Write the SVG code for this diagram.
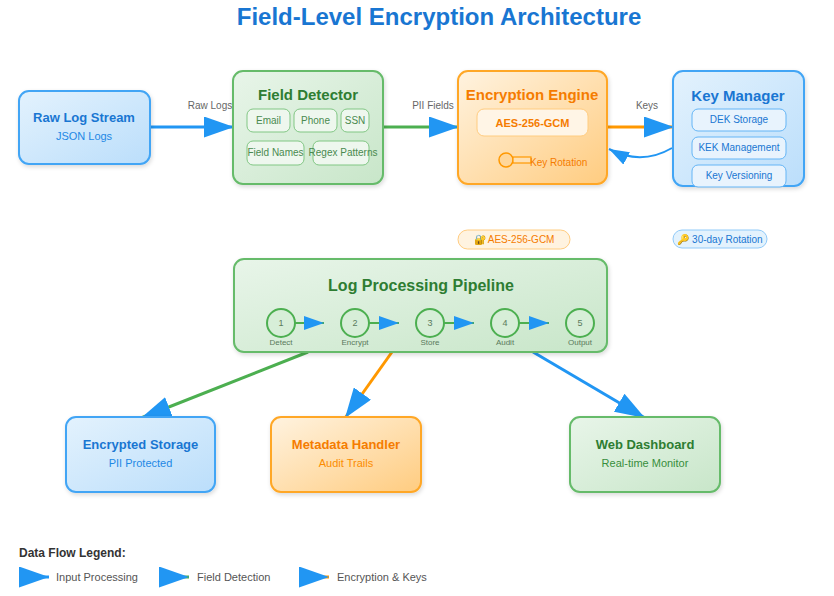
<svg xmlns="http://www.w3.org/2000/svg" width="834" height="596" viewBox="0 0 834 596">
<defs>
<style>
text{font-family:"Liberation Sans",Arial,sans-serif}
.t{font-weight:bold;text-anchor:middle}
.c{text-anchor:middle}
.lbl{font-size:10px;fill:#666;text-anchor:middle}
.bb{stroke:#42a5f5;stroke-width:2;fill:url(#gBlue);filter:url(#sh)}
.gb{stroke:#66bb6a;stroke-width:2;fill:url(#gGreen);filter:url(#sh)}
.ob{stroke:#ffa726;stroke-width:2;fill:url(#gOrange);filter:url(#sh)}
.gchip{fill:#eef7ee;stroke:#81c784;stroke-width:1}
.bchip{fill:#e8f3fd;stroke:#64b5f6;stroke-width:1}
.gt{font-size:10px;fill:#4a8a4e;text-anchor:middle}
.bt{font-size:10px;fill:#1976d2;text-anchor:middle}
.ar{marker-end:url(#arr);fill:none}
.step{fill:#d7eed8;stroke:#4caf50;stroke-width:2}
.sn{font-size:9px;fill:#5a7a5c;text-anchor:middle}
.sl{font-size:8px;fill:#5a7a5c;text-anchor:middle}
.leg{font-size:11px;fill:#555}
</style>
<linearGradient id="gBlue" x1="0" y1="0" x2="1" y2="1"><stop offset="0" stop-color="#e3f2fd"/><stop offset="1" stop-color="#bbdefb"/></linearGradient>
<linearGradient id="gGreen" x1="0" y1="0" x2="1" y2="1"><stop offset="0" stop-color="#e8f5e9"/><stop offset="1" stop-color="#c8e6c9"/></linearGradient>
<linearGradient id="gOrange" x1="0" y1="0" x2="1" y2="1"><stop offset="0" stop-color="#fff3e0"/><stop offset="1" stop-color="#ffcc80"/></linearGradient>
<marker id="arr" viewBox="0 0 10 7" refX="10" refY="3.5" markerWidth="10" markerHeight="7" orient="auto" markerUnits="strokeWidth"><polygon points="0 0,10 3.5,0 7" fill="#2196f3"/></marker>
<filter id="sh" x="-10%" y="-10%" width="130%" height="140%"><feDropShadow dx="1" dy="2" stdDeviation="2" flood-color="#000" flood-opacity="0.15"/></filter>
</defs>
<rect width="834" height="596" fill="#ffffff"/>
<text x="439" y="25" class="t" font-size="24" fill="#1976d2">Field-Level Encryption Architecture</text>

<g id="connectors">
<line class="ar" x1="150" y1="127" x2="234" y2="127" stroke="#2196f3" stroke-width="3"/>
<line class="ar" x1="383" y1="127" x2="459" y2="127" stroke="#4caf50" stroke-width="3"/>
<line class="ar" x1="607" y1="127" x2="674" y2="127" stroke="#ff9800" stroke-width="3"/>
<path class="ar" d="M672 148 Q641 166 609 149" stroke="#2196f3" stroke-width="2"/>
<line class="ar" x1="308" y1="352" x2="141" y2="418" stroke="#4caf50" stroke-width="3"/>
<line class="ar" x1="392" y1="352" x2="345" y2="418" stroke="#ff9800" stroke-width="3"/>
<line class="ar" x1="533" y1="352" x2="645" y2="418" stroke="#2196f3" stroke-width="3"/>
<text x="210" y="109" class="lbl">Raw Logs</text>
<text x="433" y="109" class="lbl">PII Fields</text>
<text x="647" y="109" class="lbl">Keys</text>
</g>

<g id="raw-log-stream">
<rect class="bb" x="19" y="91" width="131" height="73" rx="10"/>
<text x="84" y="122" class="t" font-size="13" fill="#1976d2">Raw Log Stream</text>
<text x="84" y="140" class="c" font-size="11" fill="#1e88e5">JSON Logs</text>
</g>

<g id="field-detector">
<rect class="gb" x="233" y="71" width="150" height="113" rx="10"/>
<text x="308" y="100" class="t" font-size="15" fill="#2e7d32">Field Detector</text>
<rect class="gchip" x="247" y="109" width="43" height="23" rx="6"/>
<text x="268.5" y="124" class="gt">Email</text>
<rect class="gchip" x="294" y="109" width="43" height="23" rx="6"/>
<text x="315.5" y="124" class="gt">Phone</text>
<rect class="gchip" x="341" y="109" width="28" height="23" rx="6"/>
<text x="355" y="124" class="gt">SSN</text>
<rect class="gchip" x="247" y="141" width="57" height="24" rx="6"/>
<text x="275.5" y="156" class="gt">Field Names</text>
<rect class="gchip" x="313" y="141" width="56" height="24" rx="6"/>
<text x="343" y="156" class="gt">Regex Patterns</text>
</g>

<g id="encryption-engine">
<rect class="ob" x="458" y="71" width="149" height="113" rx="10"/>
<text x="532" y="100" class="t" font-size="15" fill="#f57c00">Encryption Engine</text>
<rect x="477" y="109" width="111" height="27" rx="7" fill="#fff5e6" stroke="#ffcc80" stroke-width="1"/>
<text x="532.5" y="127" class="t" font-size="11" fill="#f57c00">AES-256-GCM</text>
<circle cx="506" cy="160" r="7" fill="#ffd699" stroke="#ff9800" stroke-width="1.5"/>
<rect x="513" y="157" width="18" height="6" fill="#ffe0b2" stroke="#ff9800" stroke-width="1.2"/>
<text x="530" y="166" font-size="10" fill="#f57c00">Key Rotation</text>
</g>

<g id="key-manager">
<rect class="bb" x="673" y="71" width="131" height="115" rx="10"/>
<text x="738" y="101" class="t" font-size="15" fill="#1976d2">Key Manager</text>
<rect class="bchip" x="692" y="109" width="94" height="22" rx="6"/>
<text x="739" y="123" class="bt">DEK Storage</text>
<rect class="bchip" x="692" y="137" width="94" height="22" rx="6"/>
<text x="739" y="151" class="bt">KEK Management</text>
<rect class="bchip" x="692" y="165" width="94" height="22" rx="6"/>
<text x="739" y="179" class="bt">Key Versioning</text>
</g>

<g id="badge-aes">
<rect x="458" y="230" width="112" height="19" rx="9.5" fill="#fff3e0" stroke="#ffcc80" stroke-width="1"/>
<text x="514" y="243" class="c" font-size="10" fill="#f57c00">🔐 AES-256-GCM</text>
</g>
<g id="badge-rotation">
<rect x="673" y="230" width="94" height="18" rx="9" fill="#e3f2fd" stroke="#90caf9" stroke-width="1"/>
<text x="720" y="243" class="c" font-size="10" fill="#1976d2">🔑 30-day Rotation</text>
</g>

<g id="pipeline">
<rect class="gb" x="234" y="259" width="373" height="93" rx="10"/>
<text x="421" y="291" class="t" font-size="16" fill="#2e7d32">Log Processing Pipeline</text>
<line class="ar" x1="294" y1="323" x2="324" y2="323" stroke="#4caf50" stroke-width="2"/>
<line class="ar" x1="369" y1="323" x2="399" y2="323" stroke="#4caf50" stroke-width="2"/>
<line class="ar" x1="444" y1="323" x2="474" y2="323" stroke="#4caf50" stroke-width="2"/>
<line class="ar" x1="519" y1="323" x2="549" y2="323" stroke="#4caf50" stroke-width="2"/>
<circle class="step" cx="281" cy="323" r="14"/><text x="281" y="326" class="sn">1</text><text x="281" y="345" class="sl">Detect</text>
<circle class="step" cx="355" cy="323" r="14"/><text x="355" y="326" class="sn">2</text><text x="355" y="345" class="sl">Encrypt</text>
<circle class="step" cx="430" cy="323" r="14"/><text x="430" y="326" class="sn">3</text><text x="430" y="345" class="sl">Store</text>
<circle class="step" cx="505" cy="323" r="14"/><text x="505" y="326" class="sn">4</text><text x="505" y="345" class="sl">Audit</text>
<circle class="step" cx="580" cy="323" r="14"/><text x="580" y="326" class="sn">5</text><text x="580" y="345" class="sl">Output</text>
</g>

<g id="encrypted-storage">
<rect class="bb" x="66" y="417" width="149" height="75" rx="10"/>
<text x="140.5" y="449" class="t" font-size="13" fill="#1976d2">Encrypted Storage</text>
<text x="140.5" y="467" class="c" font-size="11" fill="#1e88e5">PII Protected</text>
</g>
<g id="metadata-handler">
<rect class="ob" x="271" y="417" width="150" height="75" rx="10"/>
<text x="346" y="449" class="t" font-size="13" fill="#f57c00">Metadata Handler</text>
<text x="346" y="467" class="c" font-size="11" fill="#fb8c00">Audit Trails</text>
</g>
<g id="web-dashboard">
<rect class="gb" x="570" y="417" width="150" height="75" rx="10"/>
<text x="645" y="449" class="t" font-size="13" fill="#2e7d32">Web Dashboard</text>
<text x="645" y="467" class="c" font-size="11" fill="#388e3c">Real-time Monitor</text>
</g>

<g id="legend">
<text x="19" y="557" font-size="12" font-weight="bold" fill="#333">Data Flow Legend:</text>
<line class="ar" x1="19" y1="577" x2="49" y2="577" stroke="#2196f3" stroke-width="3"/>
<text x="56" y="581" class="leg">Input Processing</text>
<line class="ar" x1="159" y1="577" x2="189" y2="577" stroke="#4caf50" stroke-width="3"/>
<text x="197" y="581" class="leg">Field Detection</text>
<line class="ar" x1="299" y1="577" x2="329" y2="577" stroke="#ff9800" stroke-width="3"/>
<text x="337" y="581" class="leg">Encryption &amp; Keys</text>
</g>
</svg>
